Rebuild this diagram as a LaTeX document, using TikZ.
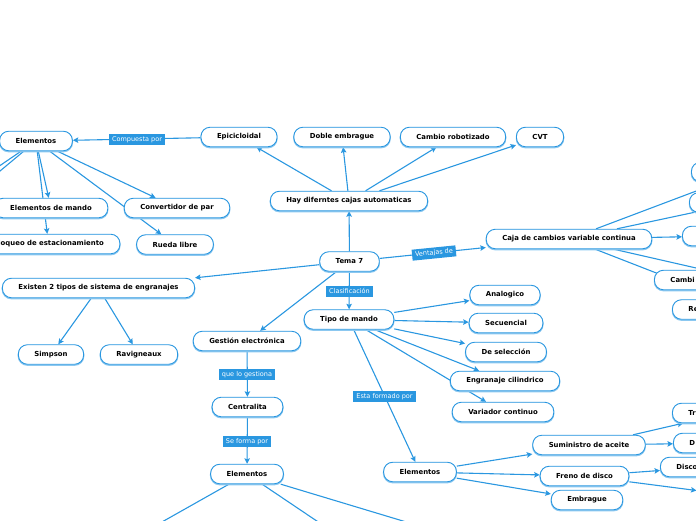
\documentclass[tikz,border=0pt]{standalone}
\usepackage{fontspec}
\setmainfont{DejaVu Sans}
\usetikzlibrary{arrows.meta,backgrounds}
\definecolor{mmblue}{HTML}{2A97E0}
\definecolor{mmlight}{HTML}{8CC8F0}
\tikzset{
  topic/.style={draw=mmblue, line width=0.9pt, fill=white, rounded corners=9pt,
    minimum height=19.5pt, inner xsep=16pt, inner ysep=0pt,
    font=\fontsize{6.9}{8}\selectfont\bfseries, text=black,
    preaction={draw=mmlight, line width=1.4pt, transform canvas={yshift=-0.9pt}}},
  lbl/.style={fill=mmblue, text=white, font=\fontsize{6.5}{8}\selectfont,
    inner xsep=3pt, inner ysep=0pt, minimum height=11pt},
  conn/.style={draw=mmblue, line width=1.1pt, -{Stealth[length=5.5pt,width=5.5pt,inset=1pt]}},
  plainconn/.style={draw=mmblue, line width=1.1pt},
}
\begin{document}
\begin{tikzpicture}[x=1pt,y=-1pt]
\useasboundingbox (0,0) rectangle (696,520);
\clip (0,0) rectangle (696,520);
% nodes
\node[topic] (EL1) at (36,141) {Elementos};
\node[topic] (EPI) at (239,137) {Epicicloidal};
\node[topic] (DOB) at (342,137) {Doble embrague};
\node[topic] (ROB) at (453,137) {Cambio robotizado};
\node[topic] (CVT) at (540,137) {CVT};
\node[topic] (HAY) at (349,201) {Hay diferntes cajas automaticas};
\node[topic] (MANDO) at (51,208) {Elementos de mando};
\node[topic] (CONV) at (177,208) {Convertidor de par};
\node[topic] (BLOQ) at (48.5,244) {Bloqueo de estacionamiento};
\node[topic] (RUEDA) at (175,244.5) {Rueda libre};
\node[topic] (EXIST) at (98.5,288) {Existen 2 tipos de sistema de engranajes};
\node[topic] (SIMP) at (51,354.5) {Simpson};
\node[topic] (RAV) at (139,354.5) {Ravigneaux};
\node[topic] (TEMA) at (349.5,261.5) {Tema 7};
\node[topic] (CAJA) at (569,239) {Caja de cambios variable continua};
\node[topic] (TIPO) at (349,319.5) {Tipo de mando};
\node[topic] (ANA) at (505,295) {Analogico};
\node[topic] (SEC) at (506,323) {Secuencial};
\node[topic] (SEL) at (506,352) {De selección};
\node[topic] (ENG) at (505,381) {Engranaje cilindrico};
\node[topic] (VAR) at (503,412) {Variador continuo};
\node[topic] (GEST) at (247,341) {Gestión electrónica};
\node[topic] (CENT) at (247.5,407) {Centralita};
\node[topic] (ELB) at (247,474) {Elementos};
\node[topic] (ELR) at (420,472) {Elementos};
\node[topic] (SUM) at (589,445) {Suministro de aceite};
\node[topic] (FRE) at (584.5,476) {Freno de disco};
\node[topic] (EMB) at (587,500) {Embrague};
% nodes cut by the right edge
\node[topic, anchor=west] (R1) at (691,172) {\hspace*{50pt}};
\node[topic, anchor=west] (R2) at (689,202.5) {\hspace*{50pt}};
\node[topic, anchor=west] (R3) at (682,236) {\hspace*{50pt}};
\node[topic, anchor=west] (CAMBI) at (654,280) {Cambi\hspace*{40pt}};
\node[topic, anchor=west] (RE) at (672,309.5) {Re\hspace*{40pt}};
\node[topic, anchor=west] (TR) at (672,413) {Tr\hspace*{70pt}};
\node[topic, anchor=west] (DD) at (673,443) {D\hspace*{76pt}};
\node[topic, anchor=west] (DISCO) at (660,467) {Disco\hspace*{42pt}};
% free ends off the picture
\coordinate (oL1) at (-30,186);
\coordinate (oL2) at (-30,196);
\coordinate (oB1) at (130,540);
\coordinate (oB2) at (345,540);
\coordinate (oB3) at (466,540);
\coordinate (oC1) at (740,174.5);
\coordinate (oC2) at (740,202.6);
\coordinate (oC4) at (740,278);
\coordinate (oC5) at (700,290);
\coordinate (oF2) at (696.5,490.5);
% labels
\node[lbl] (L1) at (137,139.5) {Compuesta por};
\node[lbl, rotate=5.7] (L2) at (434,253) {Ventajas de};
\node[lbl] (L3) at (349.5,291) {Clasificación};
\node[lbl] (L4) at (247,374.5) {que lo gestiona};
\node[lbl] (L5) at (247,441.5) {Se forma por};
\node[lbl] (L6) at (384.5,396.5) {Esta formado por};
% connectors
\begin{pgfonlayer}{background}
\draw[conn] (EPI) -- (EL1);
\draw[conn] (HAY) -- (EPI);
\draw[conn] (HAY) -- (DOB);
\draw[conn] (HAY) -- (ROB);
\draw[conn] (HAY) -- (CVT);
\draw[conn] (TEMA) -- (HAY);
\draw[conn] (EL1) -- (MANDO);
\draw[conn] (EL1) -- (BLOQ);
\draw[conn] (EL1) -- (CONV);
\draw[conn] (EL1) -- (RUEDA);
\draw[conn] (EL1) -- (oL1);
\draw[conn] (EL1) -- (oL2);
\draw[conn] (TEMA) -- (EXIST);
\draw[conn] (EXIST) -- (SIMP);
\draw[conn] (EXIST) -- (RAV);
\draw[conn] (TEMA) -- (CAJA);
\draw[conn] (TEMA) -- (TIPO);
\draw[conn] (TEMA) -- (GEST);
\draw[conn] (TIPO) -- (ANA);
\draw[conn] (TIPO) -- (SEC);
\draw[conn] (TIPO) -- (SEL);
\draw[conn] (TIPO) -- (ENG);
\draw[conn] (TIPO) -- (VAR);
\draw[conn] (TIPO) -- (ELR);
\draw[conn] (GEST) -- (CENT);
\draw[conn] (CENT) -- (ELB);
\draw[conn] (ELB) -- (oB1);
\draw[conn] (ELB) -- (oB2);
\draw[conn] (ELB) -- (oB3);
\draw[conn] (ELR) -- (SUM);
\draw[conn] (ELR) -- (FRE);
\draw[conn] (ELR) -- (EMB);
\draw[conn] (SUM) -- (TR);
\draw[conn] (SUM) -- (DD);
\draw[conn] (FRE) -- (DISCO);
\draw[conn] (FRE) -- (oF2);
\draw[plainconn] (CAJA) -- (oC1);
\draw[plainconn] (CAJA) -- (oC2);
\draw[conn] (CAJA) -- (R3);
\draw[plainconn] (CAJA) -- (oC4);
\draw[plainconn] (CAJA) -- (oC5);
\end{pgfonlayer}
\end{tikzpicture}
\end{document}
